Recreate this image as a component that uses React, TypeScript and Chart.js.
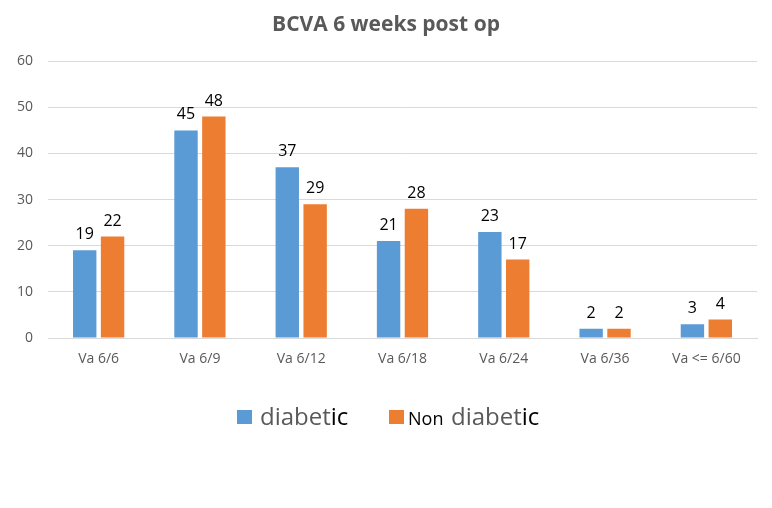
import React, { useEffect, useRef } from "react";
import { Chart, registerables } from "chart.js";

Chart.register(...registerables);

const categories = ["Va 6/6", "Va 6/9", "Va 6/12", "Va 6/18", "Va 6/24", "Va 6/36", "Va <= 6/60"];
const diabetic = [19, 45, 37, 21, 23, 2, 3];
const nonDiabetic = [22, 48, 29, 28, 17, 2, 4];
const seriesNames = ["diabetic", "Non diabetic"];
const seriesColors = ["#5B9BD5", "#ED7D31"];
const titleText = "BCVA 6 weeks post op";

const valueLabels = {
  id: "valueLabels",
  afterDatasetsDraw(chart: any) {
    const ctx = chart.ctx;
    ctx.save();
    ctx.font = "16px 'Open Sans', sans-serif";
    ctx.fillStyle = "#000000";
    ctx.textAlign = "center";
    ctx.textBaseline = "alphabetic";
    chart.data.datasets.forEach((ds: any, di: number) => {
      const meta = chart.getDatasetMeta(di);
      meta.data.forEach((bar: any, i: number) => {
        ctx.fillText(String(ds.data[i]), bar.x, bar.y - 11);
      });
    });
    ctx.restore();
  },
};

const legendFont = "'Open Sans', sans-serif";

export default function App() {
  const ref = useRef<HTMLCanvasElement>(null);
  useEffect(() => {
    document.body.style.margin = "0";
    const chart = new Chart(ref.current!, {
      type: "bar",
      data: {
        labels: categories,
        datasets: [
          { label: seriesNames[0], data: diabetic, backgroundColor: seriesColors[0] },
          { label: seriesNames[1], data: nonDiabetic, backgroundColor: seriesColors[1] },
        ],
      },
      options: {
        animation: false,
        responsive: false,
        devicePixelRatio: 1,
        layout: { padding: { left: 15, right: 15, top: 0, bottom: 130 } },
        plugins: {
          legend: { display: false },
          tooltip: { enabled: false },
          title: {
            display: true,
            text: titleText,
            color: "#595959",
            font: { family: "'Open Sans', sans-serif", size: 21, weight: "bold" },
            padding: { top: 12, bottom: 24 },
          },
        },
        datasets: { bar: { categoryPercentage: 0.55, barPercentage: 0.84 } },
        scales: {
          x: {
            grid: { display: false, drawTicks: false },
            border: { color: "#d9d9d9", width: 1 },
            ticks: { color: "#595959", font: { family: "'Open Sans', sans-serif", size: 14 }, padding: 13, maxRotation: 0 },
            afterFit: (s: any) => { s.height = 40; },
          },
          y: {
            min: 0,
            max: 60,
            ticks: { stepSize: 10, color: "#595959", font: { family: "'Open Sans', sans-serif", size: 14 }, padding: 15 },
            grid: { color: "#d9d9d9", drawTicks: false },
            border: { display: false },
            afterFit: (s: any) => { s.width = 33; },
          },
        },
      } as any,
      plugins: [valueLabels],
    });
    return () => chart.destroy();
  }, []);

  const textStyle: React.CSSProperties = { position: "absolute", fontFamily: legendFont, whiteSpace: "nowrap", lineHeight: "24px", fontSize: 24 };
  return (
    <div style={{ position: "relative", width: 772, height: 508, background: "#fff" }}>
      <canvas ref={ref} width={772} height={508} style={{ display: "block" }} />
      <span style={{ position: "absolute", left: 237, top: 410, width: 15, height: 14, background: seriesColors[0] }} />
      <span style={{ ...textStyle, left: 260, top: 404 }}>
        <span style={{ color: "#595959" }}>diabet</span>
        <span style={{ color: "#000" }}>ic</span>
      </span>
      <span style={{ position: "absolute", left: 389, top: 410, width: 15, height: 14, background: seriesColors[1] }} />
      <span style={{ ...textStyle, left: 408, top: 409, fontSize: 18, lineHeight: "18px", color: "#000" }}>Non</span>
      <span style={{ ...textStyle, left: 451, top: 404 }}>
        <span style={{ color: "#595959" }}>diabet</span>
        <span style={{ color: "#000" }}>ic</span>
      </span>
    </div>
  );
}
